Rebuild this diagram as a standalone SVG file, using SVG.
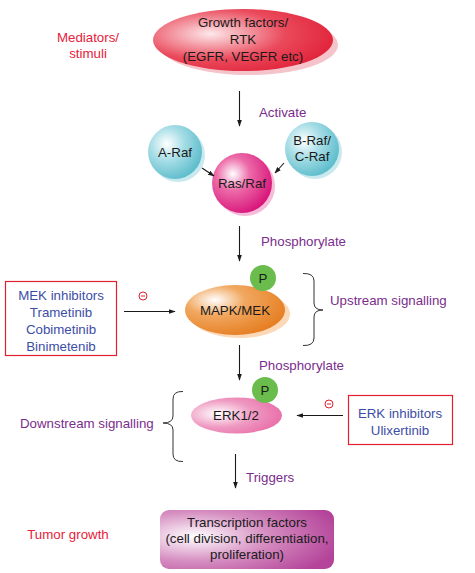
<svg xmlns="http://www.w3.org/2000/svg" width="475" height="573" viewBox="0 0 475 573">
<style>
text{font-family:"Liberation Sans",Arial,sans-serif;font-size:13.3px;fill:#1a1a1a;text-anchor:middle}
.red{fill:#e8203a}
.pur{fill:#7a2d8c;text-anchor:start}
.blu{fill:#3c4ea6}
.ln{stroke:#1a1a1a;stroke-width:1.1;fill:none}
.br{stroke:#333;stroke-width:1;fill:none}
.box{fill:#fff;stroke:#e0202e;stroke-width:1.2}
</style>
<defs>
<marker id="ah" viewBox="0 0 10 10" refX="9" refY="5" markerWidth="6" markerHeight="6" orient="auto"><path d="M0,1.5 L10,5 L0,8.5 Z" fill="#1a1a1a"/></marker>
<radialGradient id="gRed" cx="0.32" cy="0.4" r="0.75"><stop offset="0" stop-color="#fde8ea"/><stop offset="0.55" stop-color="#ea4a5c"/><stop offset="1" stop-color="#e01e36"/></radialGradient>
<radialGradient id="gCyan" cx="0.35" cy="0.35" r="0.7"><stop offset="0" stop-color="#ffffff"/><stop offset="0.45" stop-color="#a6dde6"/><stop offset="1" stop-color="#5cbccb"/></radialGradient>
<radialGradient id="gMag" cx="0.35" cy="0.35" r="0.7"><stop offset="0" stop-color="#ffffff"/><stop offset="0.4" stop-color="#ec6aa8"/><stop offset="1" stop-color="#d8157a"/></radialGradient>
<radialGradient id="gOr" cx="0.3" cy="0.3" r="0.75"><stop offset="0" stop-color="#ffffff"/><stop offset="0.4" stop-color="#f1a860"/><stop offset="1" stop-color="#e67f24"/></radialGradient>
<radialGradient id="gPink" cx="0.3" cy="0.45" r="0.75"><stop offset="0" stop-color="#ffffff"/><stop offset="0.5" stop-color="#ef9ac2"/><stop offset="1" stop-color="#e86aa6"/></radialGradient>
<radialGradient id="gPur" cx="0.2" cy="0.45" r="0.85"><stop offset="0" stop-color="#ffffff"/><stop offset="0.5" stop-color="#d58cc0"/><stop offset="1" stop-color="#b4449a"/></radialGradient>
</defs>

<g id="mediators"><text class="red" x="88" y="42">Mediators/</text><text class="red" x="88" y="58">stimuli</text></g>

<g id="growth">
<ellipse cx="249" cy="45" rx="89" ry="30" fill="#f5c4cb"/>
<ellipse cx="243" cy="40" rx="90" ry="31" fill="url(#gRed)"/>
<text x="243" y="27">Growth factors/</text><text x="243" y="44">RTK</text><text x="243" y="61">(EGFR, VEGFR etc)</text>
</g>

<g id="araf">
<circle cx="178" cy="155" r="27" fill="#c9e9ef"/>
<circle cx="175" cy="152" r="27" fill="url(#gCyan)"/>
<text x="175" y="157">A-Raf</text>
</g>
<g id="bcraf">
<circle cx="315" cy="152" r="27" fill="#c9e9ef"/>
<circle cx="312" cy="149" r="27" fill="url(#gCyan)"/>
<text x="312" y="145">B-Raf/</text><text x="312" y="161">C-Raf</text>
</g>
<g id="rasraf">
<circle cx="245" cy="186" r="30" fill="#f4bcd8"/>
<circle cx="242" cy="183" r="30" fill="url(#gMag)"/>
<text x="242" y="188">Ras/Raf</text>
</g>

<g id="mek-inhibitors">
<rect class="box" x="5.5" y="281.5" width="111" height="74"/>
<text class="blu" x="61" y="300">MEK inhibitors</text><text class="blu" x="61" y="317">Trametinib</text><text class="blu" x="61" y="334">Cobimetinib</text><text class="blu" x="61" y="351">Binimetenib</text>
</g>

<g id="mapkmek">
<ellipse cx="240" cy="314" rx="50" ry="24" fill="#fbd9b8"/>
<ellipse cx="235" cy="310" rx="50" ry="25" fill="url(#gOr)"/>
<circle cx="263" cy="278" r="13" fill="#6abd4c"/>
<text x="263" y="283">P</text>
<text x="235" y="315">MAPK/MEK</text>
</g>

<g id="erk">
<ellipse cx="236.5" cy="415.5" rx="45.5" ry="18" fill="url(#gPink)"/>
<circle cx="265" cy="390" r="13" fill="#6abd4c"/>
<text x="265" y="395">P</text>
<text x="236" y="420">ERK1/2</text>
</g>

<g id="erk-inhibitors">
<rect class="box" x="348.5" y="395.5" width="104" height="49"/>
<text class="blu" x="400" y="418">ERK inhibitors</text><text class="blu" x="400" y="435">Ulixertinib</text>
</g>

<g id="transcription">
<rect x="160" y="510" width="174" height="59" rx="9" fill="url(#gPur)"/>
<text x="247" y="527">Transcription factors</text><text x="247" y="543">(cell division, differentiation,</text><text x="247" y="559">proliferation)</text>
</g>

<g id="tumor"><text class="red" x="68" y="539">Tumor growth</text></g>

<g id="labels">
<text class="pur" x="259" y="117">Activate</text>
<text class="pur" x="261" y="246">Phosphorylate</text>
<text class="pur" x="330" y="305">Upstream signalling</text>
<text class="pur" x="259" y="370">Phosphorylate</text>
<text class="pur" x="20" y="428">Downstream signalling</text>
<text class="pur" x="246" y="482">Triggers</text>
</g>

<g id="connectors">
<line class="ln" x1="239.5" y1="91" x2="239.5" y2="126" marker-end="url(#ah)"/>
<line class="ln" x1="202" y1="168" x2="214" y2="176" marker-end="url(#ah)"/>
<line class="ln" x1="284" y1="163" x2="275" y2="173" marker-end="url(#ah)"/>
<line class="ln" x1="239.5" y1="226" x2="239.5" y2="261" marker-end="url(#ah)"/>
<line class="ln" x1="124" y1="311.5" x2="175" y2="311.5" marker-end="url(#ah)"/>
<line class="ln" x1="239.5" y1="345" x2="239.5" y2="380" marker-end="url(#ah)"/>
<line class="ln" x1="343" y1="415.5" x2="297" y2="415.5" marker-end="url(#ah)"/>
<line class="ln" x1="235.5" y1="454" x2="235.5" y2="488" marker-end="url(#ah)"/>
<path class="br" d="M303,273.5 Q314,273 314,281 V303 Q314,310 323,310 Q314,310 314,317 V338 Q314,346 303,345.5"/>
<path class="br" d="M183,391.5 Q173,391 173,399 V416 Q173,423 163,423 Q173,423 173,430 V454 Q173,462 183,461.5"/>
<g fill="none" stroke="#e0202e" stroke-width="1"><circle cx="143" cy="296" r="4"/><line x1="141" y1="296" x2="145" y2="296"/><circle cx="329" cy="404" r="4"/><line x1="327" y1="404" x2="331" y2="404"/></g>
</g>
</svg>
